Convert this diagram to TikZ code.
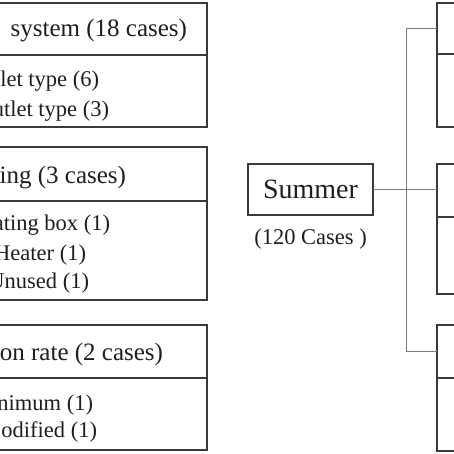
\documentclass[tikz,border=0pt]{standalone}
\usepackage{fontspec}
\setmainfont{Liberation Serif}
\usetikzlibrary{positioning,calc}
\definecolor{boxline}{HTML}{3A3A3A}
\definecolor{wireline}{HTML}{7A7A7A}
\definecolor{inktext}{HTML}{1E1E1E}

\begin{document}
\begin{tikzpicture}[x=1pt, y=-1pt,
  every node/.style={inner sep=0pt, outer sep=0pt, text=inktext},
  headbox/.style={draw=boxline, line width=2.6pt, minimum width=260pt},
  bodybox/.style={draw=boxline, line width=2pt, minimum width=260pt},
  headtext/.style={font=\fontsize{25}{30}\selectfont, anchor=base east},
  itemtext/.style={font=\fontsize{22.5}{27}\selectfont, anchor=base east},
  wire/.style={draw=wireline, line width=1pt}]
  \useasboundingbox (0,0) rectangle (454,454);
  \fill[white] (0,0) rectangle (454,454);
  \clip (0,0) rectangle (454,454);

  % left column (cut at the left edge)
  \node[headbox, anchor=north east, minimum height=52pt] (l1head) at (207,3) {};
  \node[bodybox, anchor=north, minimum height=72pt] (l1body) at (l1head.south) {};
  \node[headbox, anchor=north east, minimum height=54pt] (l2head) at (207,147) {};
  \node[bodybox, anchor=north, minimum height=99pt] (l2body) at (l2head.south) {};
  \node[headbox, anchor=north east, minimum height=53pt] (l3head) at (207,325) {};
  \node[bodybox, anchor=north, minimum height=72pt] (l3body) at (l3head.south) {};

  \node[headtext] (l1title) at (187,37) {system (18 cases)};
  \node[itemtext] (l1a) at (99,87) {let type (6)};
  \node[itemtext] (l1b) at (109,117) {utlet type (3)};

  \node[headtext] (l2title) at (126,183) {ing (3 cases)};
  \node[itemtext] (l2a) at (110,230) {ating box (1)};
  \node[itemtext] (l2b) at (86,260) {Heater (1)};
  \node[itemtext] (l2c) at (89,288) {Unused (1)};

  \node[headtext] (l3title) at (163,360) {on rate (2 cases)};
  \node[itemtext] (l3a) at (93,410) {nimum (1)};
  \node[itemtext] (l3b) at (97,437) {odified (1)};

  % centre
  \node[draw=boxline, line width=2.6pt, minimum width=125pt, minimum height=51pt,
        font=\fontsize{28}{32}\selectfont] (summer) at (310.5,189.5) {Summer};
  \node[font=\fontsize{22.5}{27}\selectfont, anchor=base] (cases) at (310.5,244) {(120 Cases )};

  % right column (cut at the right edge)
  \node[headbox, anchor=north west, minimum height=51pt] (r1head) at (437,3) {};
  \node[bodybox, anchor=north, minimum height=73pt] (r1body) at (r1head.south) {};
  \node[headbox, anchor=north west, minimum height=53pt] (r2head) at (437,164) {};
  \node[bodybox, anchor=north, minimum height=77pt] (r2body) at (r2head.south) {};
  \node[headbox, anchor=north west, minimum height=53pt] (r3head) at (437,325) {};
  \node[bodybox, anchor=north, minimum height=73pt] (r3body) at (r3head.south) {};

  \coordinate[right=33pt of summer] (bus);
  \draw[wire] (summer.east) -- (bus);
  \draw[wire] (bus) |- (r1head.west);
  \draw[wire] (bus) -- (bus -| r2head.west);
  \draw[wire] (bus) |- (r3head.west);
\end{tikzpicture}
\end{document}
